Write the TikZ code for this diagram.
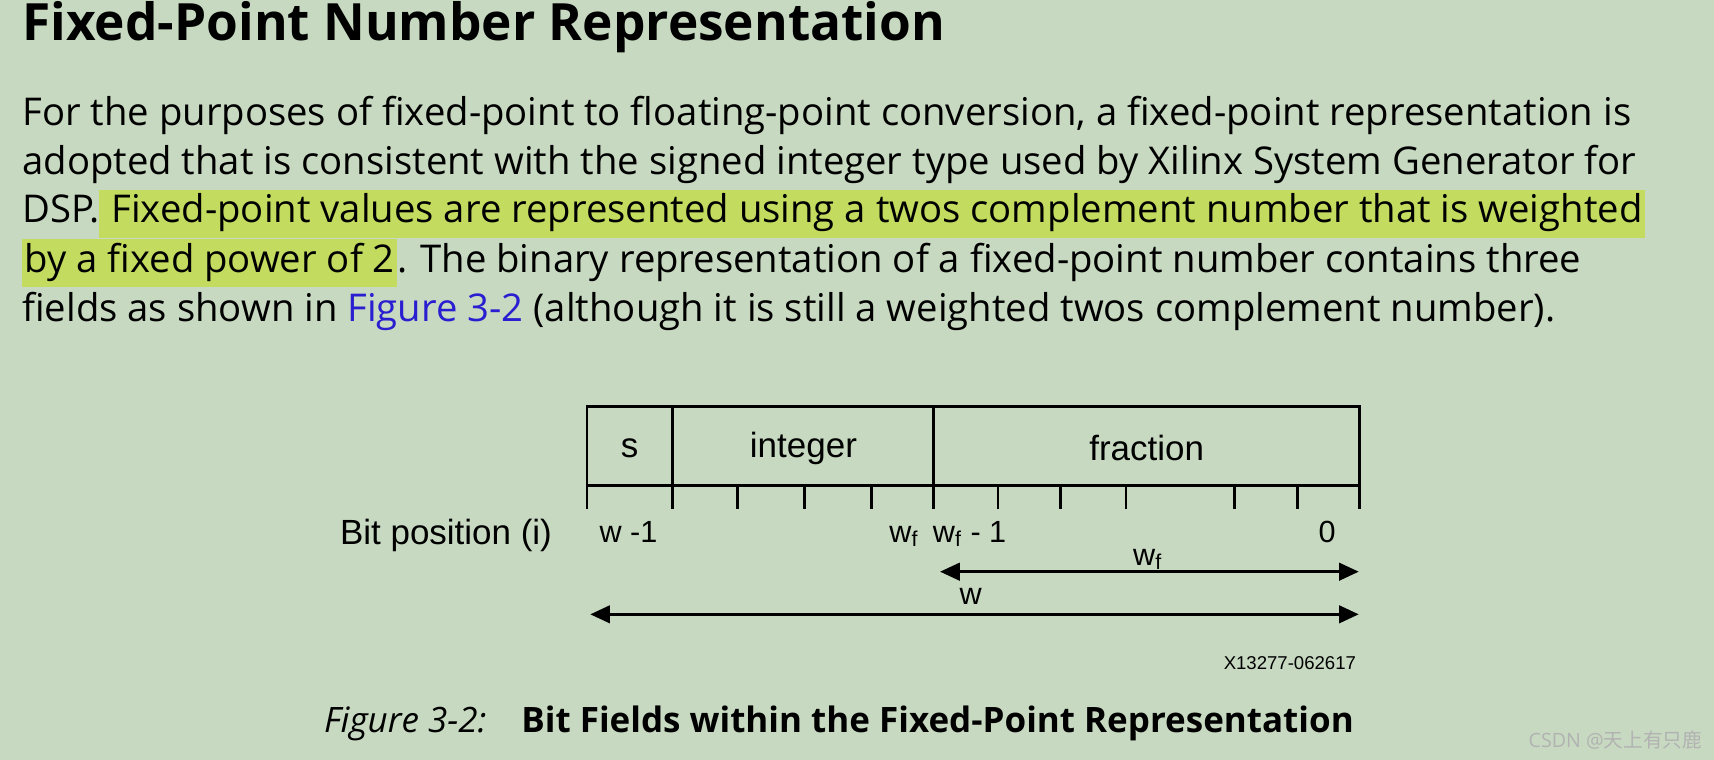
\documentclass[tikz,border=0pt]{standalone}
\usepackage{fontspec}
\setmainfont{Open Sans}
\newfontfamily\arial{Liberation Sans}
\newfontfamily\cjkf{Noto Sans CJK SC}
\usetikzlibrary{arrows.meta}
\definecolor{bg}{HTML}{C7D9C1}
\definecolor{hl}{HTML}{C3DB5E}
\definecolor{lnk}{HTML}{2A1FD0}
\newcommand{\hlt}[1]{{\setlength\fboxsep{1pt}\colorbox{hl}{\strut #1}}}
\begin{document}
\begin{tikzpicture}[x=0.5pt,y=-0.5pt,
  para/.style={anchor=base west,inner sep=0,font=\fontsize{17.5}{20}\selectfont},
  fig/.style={font=\arial\fontsize{16}{18}\selectfont,inner sep=0},
  sub/.style={font=\arial\fontsize{14}{16}\selectfont,inner sep=0,anchor=base},
  ln/.style={line width=1.3pt},
  dim/.style={line width=1.3pt,{Triangle[length=9pt,width=8pt]}-{Triangle[length=9pt,width=8pt]}}]
\fill[bg] (0,0) rectangle (1568,695);
\useasboundingbox (0,0) rectangle (1568,695);
\node[anchor=base west,inner sep=0,font=\bfseries\fontsize{23.5}{28}\selectfont] (title) at (20,37) {Fixed-Point Number Representation};
\node[para] (l1) at (20,115) {For the purposes of fixed-point to floating-point conversion, a fixed-point representation is};
\node[para] (l2) at (20,160) {adopted that is consistent with the signed integer type used by Xilinx System Generator for};
\node[para] (l3) at (20,204) {DSP.\hlt{ Fixed-point values are represented using a twos complement number that is weighted}};
\node[para] (l4) at (20,249) {\hlt{by a fixed power of 2}. The binary representation of a fixed-point number contains three};
\node[para] (l5) at (20,294) {fields as shown in \textcolor{lnk}{Figure 3-2} (although it is still a weighted twos complement number).};
% box
\draw[ln] (537,372) rectangle (1244,444);
\draw[ln] (615,372) -- (615,466);
\draw[ln] (854,372) -- (854,466);
\draw[ln] (537,444) -- (537,466);
\draw[ln] (1244,444) -- (1244,466);
\foreach \x in {675,736,797,913,970,1030,1129,1187} \draw[ln] (\x,444) -- (\x,466);
\node[fig] (s) at (576,410) {s};
\node[fig] (int) at (735,410) {integer};
\node[fig] (frac) at (1049,410) {fraction};
\node[fig,anchor=base] (bp) at (408,498) {Bit position (i)};
\node[sub] (wm1) at (575,496) {w -1};
\node[sub] (wf) at (827,496) {w\textsubscript{f}};
\node[sub] (wf1) at (887,496) {w\textsubscript{f} - 1};
\node[sub] (zero) at (1214,496) {0};
\coordinate (a1) at (860,523); \coordinate (a2) at (1243,523);
\draw[dim] (a1) -- (a2);
\node[sub] (wfl) at (1050,517) {w\textsubscript{f}};
\coordinate (b1) at (540,562); \coordinate (b2) at (1243,562);
\draw[dim] (b1) -- (b2);
\node[sub] (wl) at (888,553) {w};
\node[font=\arial\fontsize{8.5}{10}\selectfont,inner sep=0] (id) at (1180,607) {X13277-062617};
\node[anchor=base west,inner sep=0,font=\fontsize{16}{18}\selectfont] (cap) at (296,670) {\textit{Figure 3-2:}\hspace{1em}\textbf{Bit Fields within the Fixed-Point Representation}};
\node[anchor=base west,inner sep=0,text=white!40!gray,font=\fontsize{9}{10}\selectfont] (wmk) at (1398,684) {CSDN @{\cjkf 天上有只鹿}};
\end{tikzpicture}
\end{document}
